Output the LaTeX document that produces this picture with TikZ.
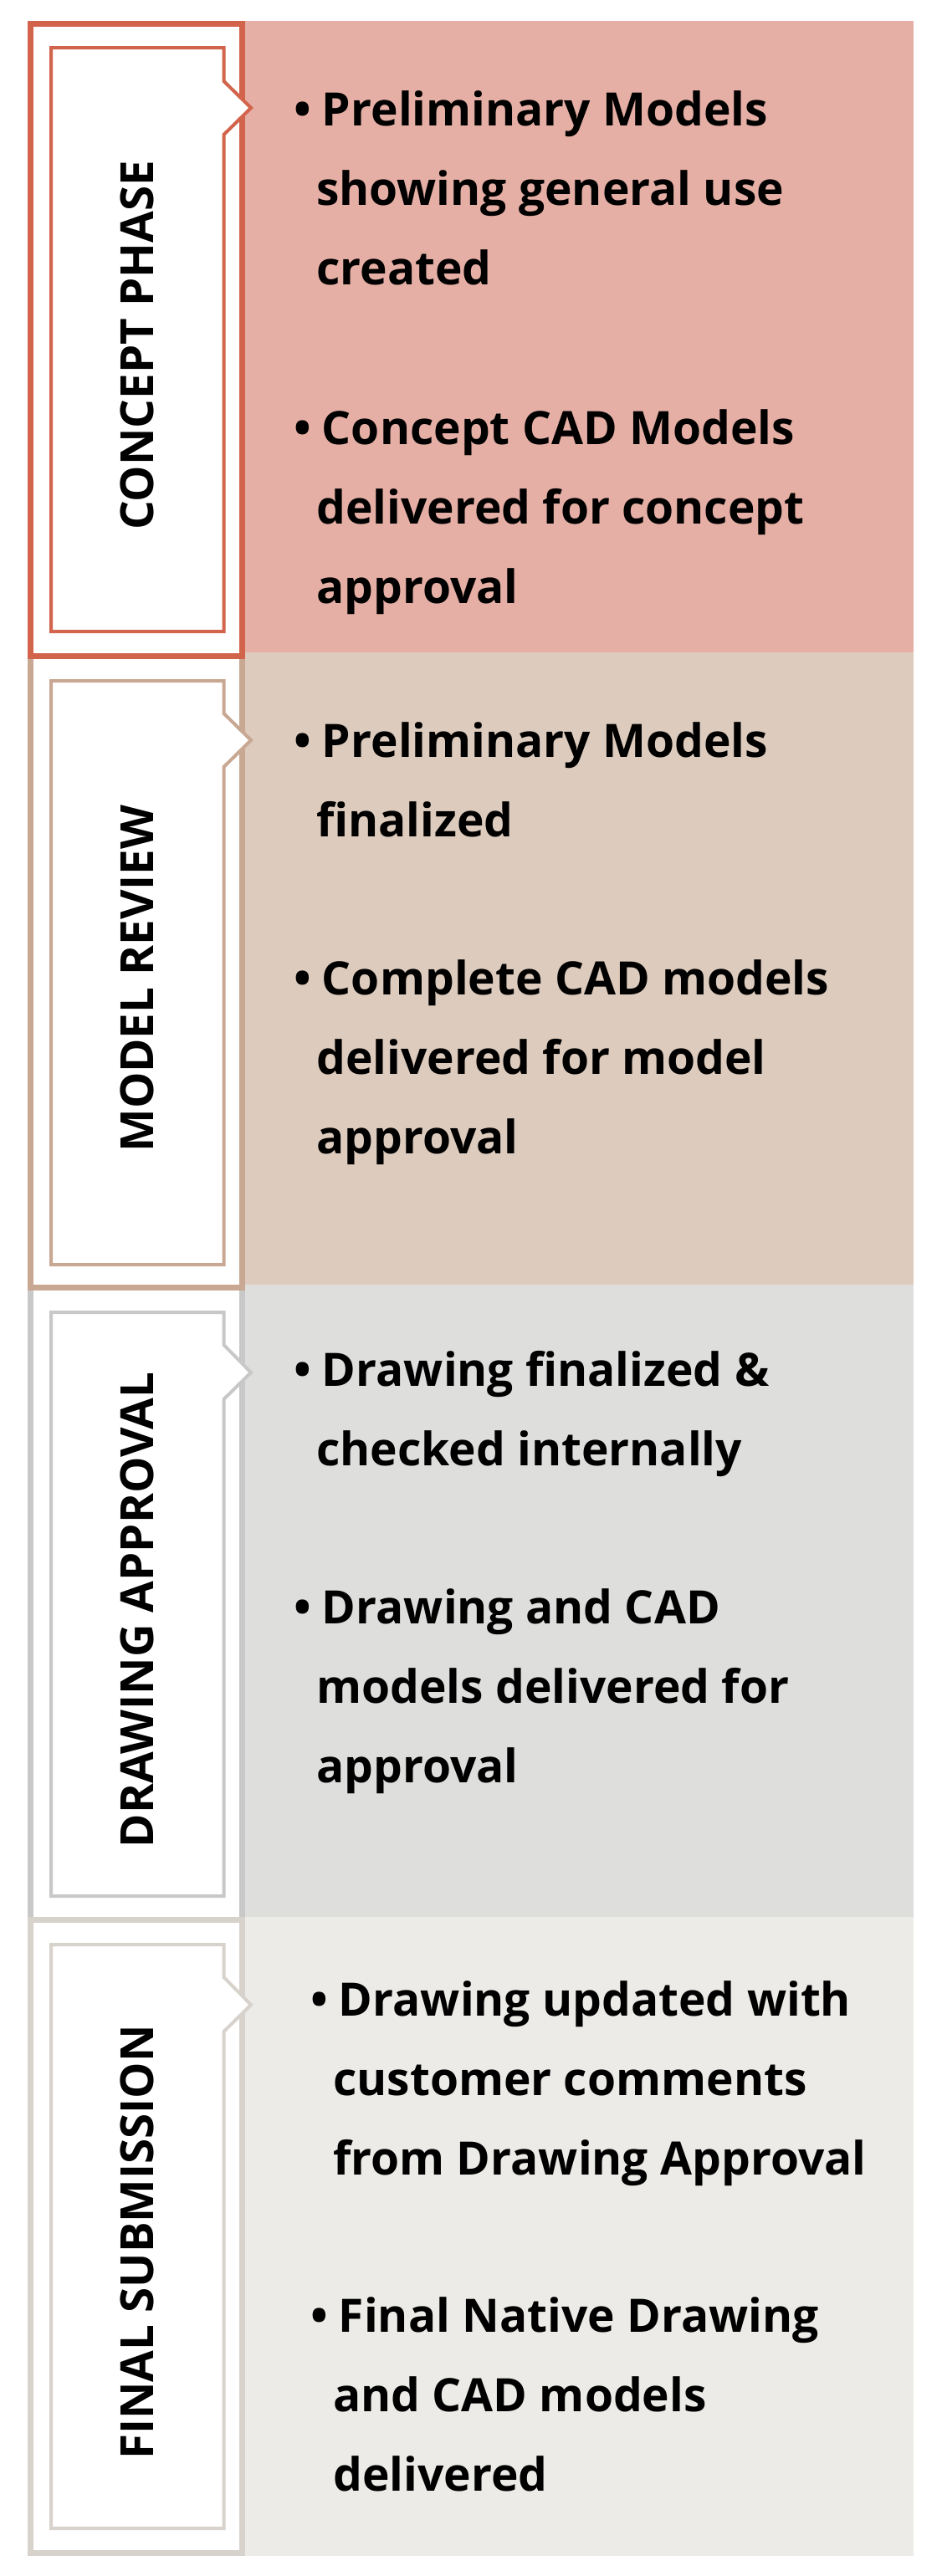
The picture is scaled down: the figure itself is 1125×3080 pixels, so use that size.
\documentclass[tikz,border=0pt]{standalone}
\usepackage{fontspec}
\setmainfont{Open Sans}
\definecolor{bA}{HTML}{D2644C}
\definecolor{pA}{HTML}{E6AFA5}
\definecolor{bB}{HTML}{C8A892}
\definecolor{pB}{HTML}{DDCBBD}
\definecolor{bC}{HTML}{C8C8C8}
\definecolor{pC}{HTML}{DEDEDD}
\definecolor{bD}{HTML}{D8D2CC}
\definecolor{pD}{HTML}{EDEBE7}
\newcommand\bln[1]{\hbox{#1}}
\newcommand\bfirst[1]{\hbox{\llap{\makebox[20pt][l]{•}}\hspace{5pt}#1}}
\begin{document}
\begin{tikzpicture}[x=0.75pt,y=-0.75pt,
  outerbox/.style={line width=5.25pt,fill=white},
  innerbox/.style={line width=3pt,fill=white,line join=miter},
  phaselabel/.style={rotate=90,inner sep=0pt,font={\fontsize{41}{49}\selectfont\bfseries}},
  bullettext/.style={anchor=base west,inner sep=0pt,font={\fontsize{41.3}{71.25}\selectfont\bfseries}}]
\useasboundingbox (0,0) rectangle (1125,3080);
% panels
\fill[pA] (293,25) rectangle (1092,780);
\fill[pB] (293,780) rectangle (1092,1536);
\fill[pC] (293,1536) rectangle (1092,2292);
\fill[pD] (293,2292) rectangle (1092,3056);
% outer boxes
\draw[outerbox,draw=bC] (36.5,1539.5) rectangle (289.5,2296);
\draw[outerbox,draw=bD] (36.5,2295.5) rectangle (289.5,3052);
\draw[outerbox,draw=bB] (36.5,783.5) rectangle (289.5,1539.5);
\draw[outerbox,draw=bA] (36.5,28.5) rectangle (289.5,784.5);
% inner boxes with notch
\draw[innerbox,draw=bA] (61,57) -- (267.5,57) -- (267.5,97) -- (300,129) -- (267.5,161) -- (267.5,755) -- (61,755) -- cycle;
\draw[innerbox,draw=bB] (61,814) -- (267.5,814) -- (267.5,853) -- (300,885) -- (267.5,917) -- (267.5,1512) -- (61,1512) -- cycle;
\draw[innerbox,draw=bC] (61,1569) -- (267.5,1569) -- (267.5,1608) -- (300,1641) -- (267.5,1673) -- (267.5,2267) -- (61,2267) -- cycle;
\draw[innerbox,draw=bD] (61,2325) -- (267.5,2325) -- (267.5,2364) -- (300,2397) -- (267.5,2429) -- (267.5,3023) -- (61,3023) -- cycle;
% labels
\node[phaselabel] (l1) at (164,413) {CONCEPT PHASE};
\node[phaselabel] (l2) at (164,1170) {MODEL REVIEW};
\node[phaselabel] (l3) at (164,1925) {DRAWING APPROVAL};
\node[phaselabel] (l4) at (164,2681) {FINAL SUBMISSION};
% bullet texts
\node[bullettext] (t1a) at (378,150) {\vtop{\bfirst{Preliminary Models}\bln{showing general use}\bln{created}}};
\node[bullettext] (t1b) at (378,531) {\vtop{\bfirst{Concept CAD Models}\bln{delivered for concept}\bln{approval}}};
\node[bullettext] (t2a) at (378,905) {\vtop{\bfirst{Preliminary Models}\bln{finalized}}};
\node[bullettext] (t2b) at (378,1189) {\vtop{\bfirst{Complete CAD models}\bln{delivered for model}\bln{approval}}};
\node[bullettext] (t3a) at (378,1657) {\vtop{\bfirst{Drawing finalized \&}\bln{checked internally}}};
\node[bullettext] (t3b) at (378,1941) {\vtop{\bfirst{Drawing and CAD}\bln{models delivered for}\bln{approval}}};
\node[bullettext] (t4a) at (398,2410) {\vtop{\bfirst{Drawing updated with}\bln{customer comments}\bln{from Drawing Approval}}};
\node[bullettext] (t4b) at (398,2788) {\vtop{\bfirst{Final Native Drawing}\bln{and CAD models}\bln{delivered}}};
\end{tikzpicture}
\end{document}
